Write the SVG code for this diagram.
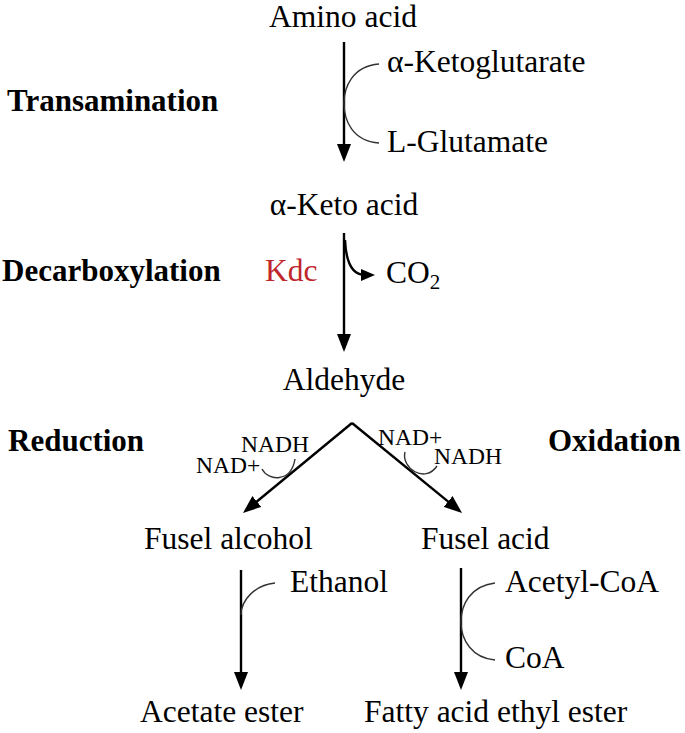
<svg xmlns="http://www.w3.org/2000/svg" width="685" height="733" viewBox="0 0 685 733">
<defs>
<marker id="ah" markerUnits="userSpaceOnUse" viewBox="0 0 18 14" refX="8" refY="7" markerWidth="18" markerHeight="14" orient="auto">
<path d="M0,0 L18,7 L0,14 z" fill="#000"/>
</marker>
<marker id="ahs" markerUnits="userSpaceOnUse" viewBox="0 0 14 12" refX="4" refY="6" markerWidth="14" markerHeight="12" orient="auto">
<path d="M0,0 L14,6 L0,12 z" fill="#000"/>
</marker>
</defs>
<style>
text{font-family:"Liberation Serif","Times New Roman",serif;fill:#000}
.m{font-size:31.5px}
.b{font-size:31px;font-weight:bold}
.s{font-size:23.5px}
.red{fill:#c0262b}
.c{text-anchor:middle}
.arr{stroke:#000;stroke-width:2.4;fill:none}
.arc{stroke:#333;stroke-width:1.4;fill:none}
</style>
<rect width="685" height="733" fill="#fff"/>
<g id="amino-acid"><text class="m c" x="343" y="27">Amino acid</text></g>
<g id="keto-acid"><text class="m c" x="344" y="215">α-Keto acid</text></g>
<g id="aldehyde"><text class="m c" x="344" y="390">Aldehyde</text></g>
<g id="fusel-alcohol"><text class="m" x="144" y="549">Fusel alcohol</text></g>
<g id="fusel-acid"><text class="m" x="421" y="549">Fusel acid</text></g>
<g id="acetate-ester"><text class="m" x="140" y="722">Acetate ester</text></g>
<g id="fatty-acid-ethyl-ester"><text class="m" x="364" y="722">Fatty acid ethyl ester</text></g>
<g id="labels">
<text class="b" x="7" y="111">Transamination</text>
<text class="b" x="2" y="281">Decarboxylation</text>
<text class="b" x="8" y="451">Reduction</text>
<text class="b" x="548" y="451">Oxidation</text>
<text class="m red" x="265" y="281">Kdc</text>
<text class="m" x="387" y="72">α-Ketoglutarate</text>
<text class="m" x="387" y="152">L-Glutamate</text>
<text class="m" x="386" y="283">CO<tspan font-size="21" dy="6">2</tspan></text>
<text class="s" x="241" y="452">NADH</text>
<text class="s" x="196" y="473">NAD+</text>
<text class="s" x="378" y="445">NAD+</text>
<text class="s" x="434" y="464">NADH</text>
<text class="m" x="290" y="592">Ethanol</text>
<text class="m" x="505" y="592">Acetyl-CoA</text>
<text class="m" x="505" y="668">CoA</text>
</g>
<g id="connectors">
<line class="arr" x1="344" y1="42" x2="344" y2="152" marker-end="url(#ah)"/>
<path class="arc" d="M379,64 C352,66 344,88 344,103 C344,120 352,141 379,143"/>
<line class="arr" x1="344" y1="233" x2="344" y2="342" marker-end="url(#ah)"/>
<path class="arr" d="M345,240 C346,262 352,275 365,275" marker-end="url(#ahs)"/>
<line class="arr" x1="352" y1="423" x2="250.7" y2="506.6" marker-end="url(#ah)"/>
<line class="arr" x1="352" y1="423" x2="454.3" y2="506.6" marker-end="url(#ah)"/>
<path class="arc" d="M262,469 C268,481 291,483 295,459"/>
<path class="arc" d="M405,452 C401,468 425,484 437,466"/>
<line class="arr" x1="241" y1="570" x2="241" y2="680" marker-end="url(#ah)"/>
<path class="arc" d="M275,583 C255,585 241,600 241,615"/>
<line class="arr" x1="461" y1="568" x2="461" y2="680" marker-end="url(#ah)"/>
<path class="arc" d="M495,583 C470,586 461,605 461,622 C461,640 472,658 495,660"/>
</g>
</svg>
